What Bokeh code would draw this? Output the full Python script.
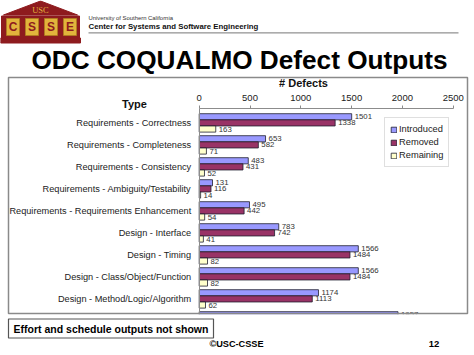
from bokeh.plotting import figure
from bokeh.models import Range1d, FixedTicker, Legend, LegendItem, ColumnDataSource
from bokeh.core.properties import value
from bokeh.transform import dodge
from bokeh.embed import file_html
from bokeh.resources import INLINE

# ---------------- data ----------------
categories = [
    "Requirements - Correctness",
    "Requirements - Completeness",
    "Requirements - Consistency",
    "Requirements - Ambiguity/Testability",
    "Requirements - Requirements Enhancement",
    "Design - Interface",
    "Design - Timing",
    "Design - Class/Object/Function",
    "Design - Method/Logic/Algorithm",
    "Design - Data Values/Initialization",
]
introduced = [1501, 653, 483, 131, 495, 783, 1566, 1566, 1174, 1957]
removed = [1338, 582, 431, 116, 442, 742, 1484, 1484, 1113]
remaining = [163, 71, 52, 14, 54, 41, 82, 82, 62]
series_names = ["Introduced", "Removed", "Remaining"]
x_ticks = [0, 500, 1000, 1500, 2000, 2500]

# ---------------- layout constants (canvas pixels) ----------------
W, H = 474, 355
X0_PX, X_SCALE = 198.7, 254.0 / 2500      # value 0 position, px per unit
ROW0_PX, ROW_PX = 122.4, 22.0             # first category centre, px per category
TOP_PX, BOT_PX = 108.0, 313.0             # plot area top / bottom
FONT = "Liberation Sans"
BAR_H = 0.279
COLORS = ["#9999FF", "#993366", "#FFFFCC"]


def xv(P):
    return (P - X0_PX) / X_SCALE


def yv(P):
    return (P - ROW0_PX) / ROW_PX


p = figure(width=W, height=H, output_backend="svg", toolbar_location=None, title=None,
           x_range=Range1d(xv(0), xv(W)), y_range=Range1d(yv(H), yv(0)),
           x_axis_location="above", min_border=0)
p.min_border_left = p.min_border_right = p.min_border_top = p.min_border_bottom = 0
p.grid.visible = False
p.outline_line_color = None
p.background_fill_color = "white"
p.border_fill_color = "white"
p.extra_x_ranges = {"px": Range1d(0, W)}
p.extra_y_ranges = {"py": Range1d(H, 0)}

# ---------------- bars and value labels ----------------
renderers = []
for k, (name, vals) in enumerate(zip(series_names, [introduced, removed, remaining])):
    src = ColumnDataSource(dict(pos=list(range(len(vals))), val=vals,
                                lbl=[str(v) for v in vals]))
    off = (k - 1) * BAR_H
    r = p.hbar(y=dodge("pos", off), left=0, right="val", height=BAR_H, source=src,
               fill_color=COLORS[k], line_color="#1e1e2e", line_width=0.8)
    p.text(x="val", y=dodge("pos", off), text="lbl", source=src, x_offset=3,
           text_baseline="middle", text_align="left", text_font_size="7.8px",
           text_font=value(FONT), text_color="#333333")
    renderers.append(r)


# ---------------- decoration helpers (pixel ranges) ----------------
def txt(t, X, Y, size, bold=False, align="left", color="#000000", font=FONT):
    p.text(x=[X], y=[Y], text=[t], x_range_name="px", y_range_name="py",
           text_font=value(font), text_font_size=size,
           text_font_style="bold" if bold else "normal",
           text_align=align, text_baseline="middle", text_color=color)


def rect(L, T, R, B, fill=None, line=None, lw=1.0):
    p.quad(left=[L], right=[R], top=[T], bottom=[B], x_range_name="px", y_range_name="py",
           fill_color=fill, line_color=line, line_width=lw)


# hide the overflow of the last (cut) category below the plot box
rect(150, BOT_PX + 0.8, W, H, fill="white")

# ---------------- header ----------------
RED = "#8E1B1E"
GOLD = "#E2B43C"
p.patch(x=[3, 40, 77], y=[14.5, 0.5, 14.5], x_range_name="px", y_range_name="py",
        fill_color=RED, line_color=RED)
txt("USC", 40, 9, "8.5px", align="center", color=GOLD, font="Liberation Serif")
rect(1, 15.5, 79, 37.5, fill=RED, line=RED)
for i, ch in enumerate("CSSE"):
    x0 = 6 + i * 19
    rect(x0, 18, x0 + 13, 35, fill=GOLD, line="#b08020", lw=0.8)
    txt(ch, x0 + 6.5, 26.8, "12px", bold=True, align="center", color=RED)
rect(0, 37.5, 80, 42.5, fill=RED, line=RED)

txt("University of Southern California", 88, 17.3, "5.9px", color="#333333")
txt("Center for Systems and Software Engineering", 88, 25.8, "7.8px", bold=True, color="#111111")
p.segment(x0=[88], y0=[32.4], x1=[458], y1=[32.4], x_range_name="px", y_range_name="py",
          line_color="#777777", line_width=1)

txt("ODC COQUALMO Defect Outputs", 239, 59.5, "26.2px", bold=True, align="center")

# ---------------- chart box ----------------
rect(8, 77, 467, BOT_PX, fill=None, line="#8a8a8a", lw=1.5)
txt("# Defects", 303, 82, "11px", bold=True, align="center", color="#111111")
txt("Type", 134, 103.5, "11px", bold=True, align="center", color="#111111")

# ---------------- footer ----------------
rect(8, 318.5, 213, 337.5, fill=None, line="#555555", lw=1.2)
txt("Effort and schedule outputs not shown", 110.5, 328.3, "10.5px", bold=True, align="center")
txt("\u00a9USC-CSSE", 236, 343.5, "9.2px", bold=True, align="center")
txt("12", 433.5, 343.5, "9.5px", bold=True, align="center")

# ---------------- axes (placed inside the canvas) ----------------
xa = p.xaxis[0]
xa.fixed_location = yv(TOP_PX)
xa.bounds = (x_ticks[0], x_ticks[-1])
xa.ticker = FixedTicker(ticks=x_ticks)
xa.major_label_text_font = FONT
xa.major_label_text_font_size = "9.5px"
xa.major_label_text_color = "#222222"
xa.axis_line_color = "#8c8c8c"
xa.major_tick_line_color = "#8c8c8c"
xa.major_tick_out = 3
xa.major_tick_in = 0
xa.minor_tick_out = 0
xa.minor_tick_in = 0
xa.major_label_standoff = 5

ya = p.yaxis[0]
ya.fixed_location = 0
ya.bounds = (yv(TOP_PX), yv(BOT_PX))
ya.ticker = FixedTicker(ticks=[i for i in range(len(categories)) if i <= yv(BOT_PX)])
ya.major_label_overrides = {i: c for i, c in enumerate(categories)}
ya.major_label_text_font = FONT
ya.major_label_text_font_size = "9.2px"
ya.major_label_text_color = "#222222"
ya.axis_line_color = "#8c8c8c"
ya.major_tick_out = 0
ya.major_tick_in = 0
ya.minor_tick_out = 0
ya.minor_tick_in = 0
ya.major_label_standoff = 8

legend = Legend(items=[LegendItem(label=n, renderers=[r]) for n, r in zip(series_names, renderers)],
                location=(384, H - 167), glyph_width=7, glyph_height=7,
                label_text_font=FONT, label_text_font_size="9.3px",
                label_text_color="#222222", label_standoff=2, label_height=12,
                spacing=1, padding=5, border_line_color="#bfbfbf",
                background_fill_color="white", background_fill_alpha=1)
p.add_layout(legend)

open("out.html", "w").write(file_html(p, INLINE))
